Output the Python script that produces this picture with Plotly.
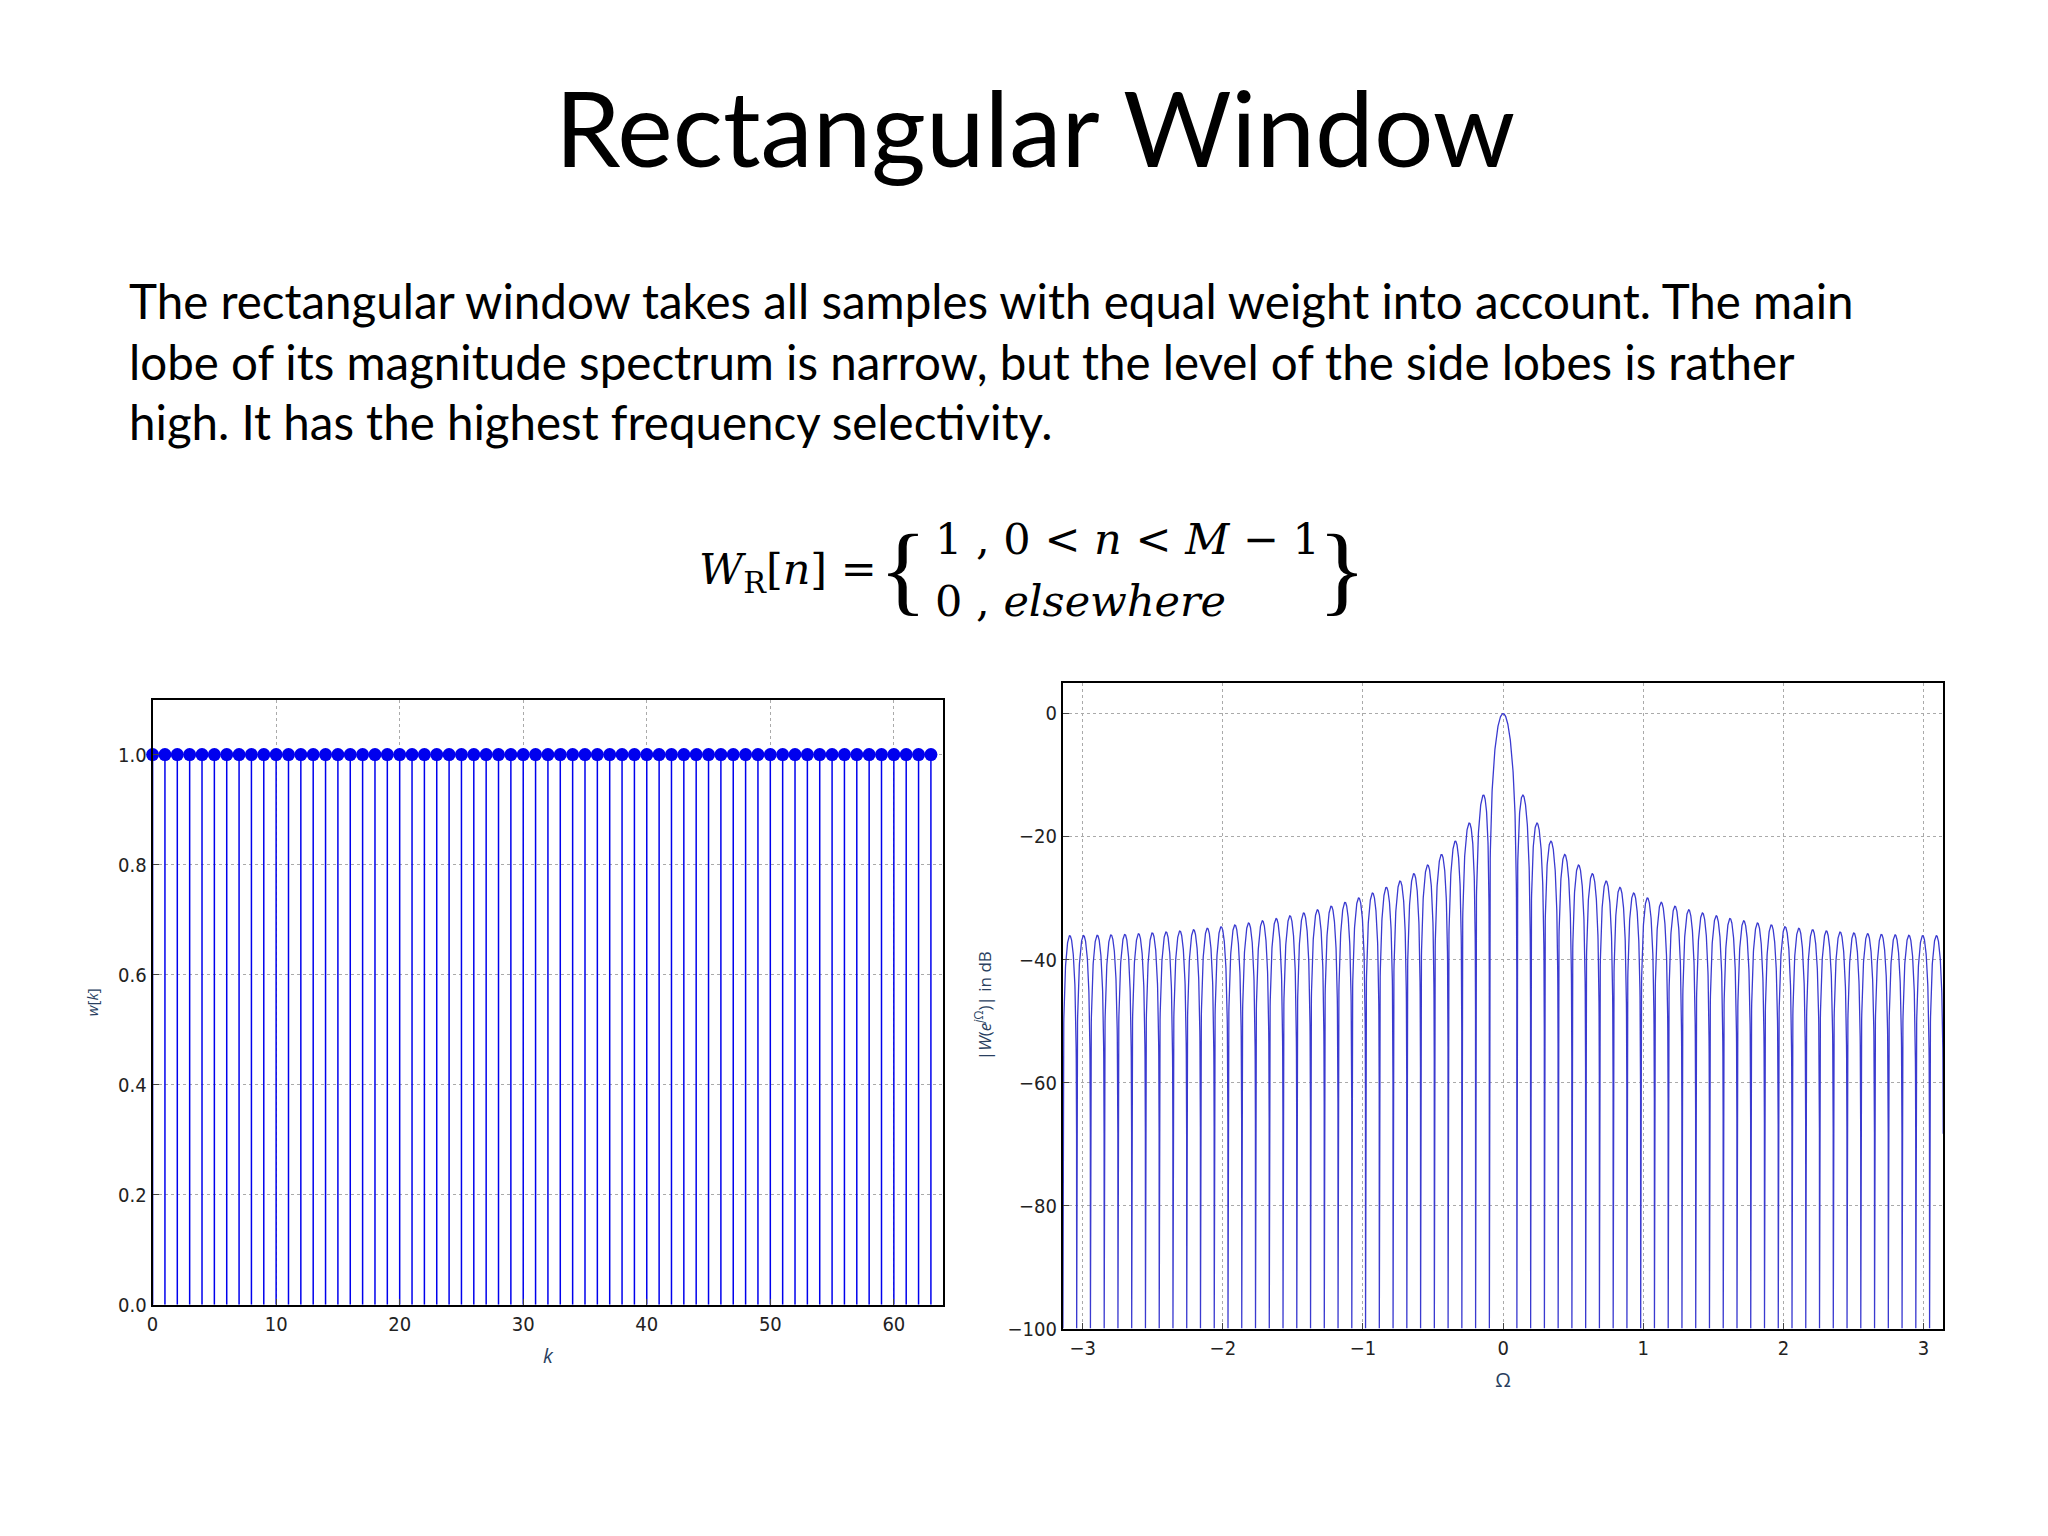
import numpy as np
import plotly.graph_objects as go

# Data
k = list(range(64))
w = [1.0] * 64
x_ticks_left = [0, 10, 20, 30, 40, 50, 60]
y_ticks_left = [0.0, 0.2, 0.4, 0.6, 0.8, 1.0]
x_ticks_right = [-3, -2, -1, 0, 1, 2, 3]
y_ticks_right = [0, -20, -40, -60, -80, -100]

# spectrum derived from the window samples
NFFT = 8192
W = np.fft.fftshift(np.fft.fft(np.array(w), NFFT))
omega = np.fft.fftshift(np.fft.fftfreq(NFFT)) * 2 * np.pi
mag = np.abs(W) / np.max(np.abs(W))
db = np.clip(20 * np.log10(np.maximum(mag, 1e-12)), -100, None)

fig = go.Figure()

sx, sy = [], []
for kk, ww in zip(k, w):
    sx += [kk, kk, None]
    sy += [0, ww, None]
fig.add_trace(go.Scatter(x=sx, y=sy, mode="lines", line=dict(color="#0000ee", width=1.5),
                         xaxis="x", yaxis="y", hoverinfo="skip"))
fig.add_trace(go.Scatter(x=k, y=w, mode="markers", marker=dict(color="#0000ee", size=13),
                         xaxis="x", yaxis="y", cliponaxis=False))
fig.add_trace(go.Scatter(x=omega, y=db, mode="lines", line=dict(color="#3a3ad0", width=1.3),
                         xaxis="x2", yaxis="y2"))

tickfont = dict(family="DejaVu Sans Condensed, Liberation Sans Narrow", size=20, color="#222")
grid = dict(showgrid=True, gridcolor="#aaaaaa", griddash="dot", gridwidth=1,
            showline=True, linecolor="black", linewidth=2, mirror=True, ticks="inside",
            ticklen=6, zeroline=False, tickfont=tickfont)

def Y(p):
    return 1 - p / 1536

fig.update_layout(
    width=2048, height=1536, paper_bgcolor="white", plot_bgcolor="white",
    showlegend=False, margin=dict(l=0, r=0, t=0, b=0),
    xaxis=dict(domain=[139/2048, 932/2048], range=[0, 64], tickvals=x_ticks_left,
               anchor="y", title=dict(text="<i>k</i>", font=dict(size=20), standoff=14), **grid),
    yaxis=dict(domain=[Y(1307), Y(697)], range=[0, 1.1], tickvals=y_ticks_left,
               tickformat=".1f", anchor="x",
               title=dict(text="<i>w</i>[<i>k</i>]", font=dict(size=15), standoff=16), **grid),
    xaxis2=dict(domain=[1052/2048, 1935/2048], range=[-np.pi, np.pi], tickvals=x_ticks_right,
                anchor="y2", title=dict(text="Ω", font=dict(size=20), standoff=14), **grid),
    yaxis2=dict(domain=[Y(1331), Y(680)], range=[-100, 5], tickvals=y_ticks_right,
                anchor="x2",
                title=dict(text="|<i>W</i>(<i>e</i><sup><i>j</i>Ω</sup>)| in dB", font=dict(size=17), standoff=12),
                **grid),
)

body_font = "Lato, Open Sans, sans-serif"
fig.add_annotation(x=0.5, y=Y(119), xref="paper", yref="paper", text="Rectangular Window",
                   xanchor="center", yanchor="middle",
                   showarrow=False, font=dict(family=body_font, size=105, color="black"))
lines = ["The rectangular window takes all samples with equal weight into account. The main",
         "lobe of its magnitude spectrum is narrow, but the level of the side lobes is rather",
         "high. It has the highest frequency selectivity."]
for i, t in enumerate(lines):
    fig.add_annotation(x=113/2048, y=Y(295 + 61*i), xref="paper", yref="paper", text=t,
                       xanchor="left", yanchor="middle", showarrow=False,
                       font=dict(family=body_font, size=47.5, color="black"))

mfont = dict(family="DejaVu Serif, Liberation Serif, serif", size=43, color="black")
fig.add_annotation(x=868/2048, y=Y(568), xref="paper", yref="paper", xanchor="right", yanchor="middle",
                   text="<i>W</i><sub>R</sub>[<i>n</i>] =", showarrow=False, font=mfont)
fig.add_annotation(x=918/2048, y=Y(566), xref="paper", yref="paper", xanchor="right", yanchor="middle",
                   text="{", showarrow=False,
                   font=dict(family="Liberation Serif", size=100, color="black"))
fig.add_annotation(x=1306/2048, y=Y(566), xref="paper", yref="paper", xanchor="left", yanchor="middle",
                   text="}", showarrow=False,
                   font=dict(family="Liberation Serif", size=100, color="black"))
fig.add_annotation(x=922/2048, y=Y(535), xref="paper", yref="paper", xanchor="left", yanchor="middle",
                   text="1 , 0 &lt; <i>n</i> &lt; <i>M</i> − 1", showarrow=False, font=mfont)
fig.add_annotation(x=922/2048, y=Y(598), xref="paper", yref="paper", xanchor="left", yanchor="middle",
                   text="0 , <i>elsewhere</i>", showarrow=False, font=mfont)

fig.write_html("out.html")
